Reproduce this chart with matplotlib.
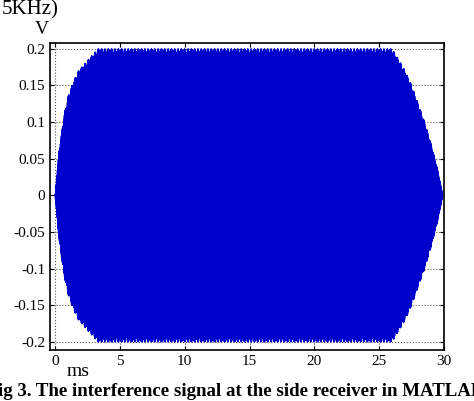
import numpy as np
import matplotlib.pyplot as plt

# envelope breakpoints (ms, V)
env_t = [0, 0.3, 0.7, 1.0, 1.4, 1.8, 2.3, 2.8, 3.3, 26.0, 26.5, 27.0, 27.5, 28.0, 28.5, 29.0, 29.5, 29.9]
env_v = [0, 0.06, 0.11, 0.135, 0.155, 0.17, 0.18, 0.19, 0.2, 0.2, 0.185, 0.17, 0.15, 0.125, 0.10, 0.07, 0.035, 0]
carrier_khz = 30.0
y_ticks = [-0.2, -0.15, -0.1, -0.05, 0, 0.05, 0.1, 0.15, 0.2]
y_labels = ['-0.2', '-0.15', '-0.1', '-0.05', '0', '0.05', '0.1', '0.15', '0.2']
x_ticks = [0, 5, 10, 15, 20, 25, 30]

plt.rcParams['font.family'] = ['Liberation Serif', 'DejaVu Serif']

t = np.arange(0, 29.9, 0.0041)
env = np.interp(t, env_t, env_v)
sig = env * np.sin(2 * np.pi * carrier_khz * t)

fig = plt.figure(figsize=(4.74, 4.01), dpi=100)
ax = fig.add_axes([50 / 474, 1 - 350 / 401, 394 / 474, 307 / 401])
ax.plot(t, sig, color='#0000cc', linewidth=1.0)
ax.set_xlim(-0.4, 30)
ax.set_ylim(-0.211, 0.208)
ax.set_xticks(x_ticks)
ax.set_yticks(y_ticks)
ax.set_yticklabels(y_labels)
ax.grid(True, linestyle=':', color='#555555', linewidth=0.8)
ax.tick_params(direction='in', labelsize=11, top=True, right=True, length=3)
for s in ax.spines.values():
    s.set_linewidth(1.2)

fig.text(2 / 474, 1 - 10 / 401, '5KHz)', fontsize=15, ha='left', va='center')
fig.text(42 / 474, 1 - 30 / 401, 'V', fontsize=14, ha='center', va='center')
fig.text(78 / 474, 1 - 372 / 401, 'ms', fontsize=14, ha='center', va='center')
fig.text(-2 / 474, 1 - 391 / 401, 'ig 3. The interference signal at the side receiver in MATLAB',
         fontsize=13.6, fontweight='bold', ha='left', va='center')

fig.savefig('out.png', dpi=100)
